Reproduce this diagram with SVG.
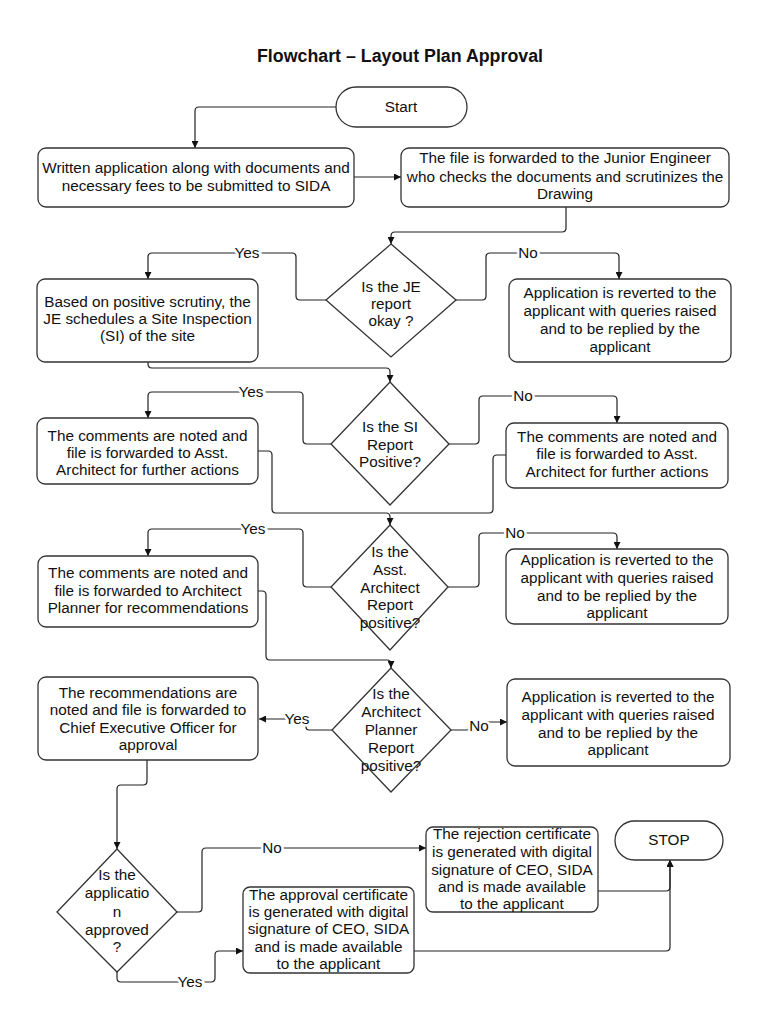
<svg xmlns="http://www.w3.org/2000/svg" width="768" height="1024" viewBox="0 0 768 1024">
<defs>
<marker id="arr" viewBox="0 0 8 8" refX="8" refY="4" markerWidth="7" markerHeight="7" markerUnits="userSpaceOnUse" orient="auto">
<path d="M0,0 L8,4 L0,8 z" fill="#111"/>
</marker>
<style>
.box{fill:#fff;stroke:#333;stroke-width:1.3}
.t{font-family:"Liberation Sans",Arial,Helvetica,sans-serif;font-size:15.3px;fill:#111;text-anchor:middle}
.title{font-family:"Liberation Sans",Arial,Helvetica,sans-serif;font-size:17.5px;font-weight:bold;fill:#111;text-anchor:middle}
.c{fill:none;stroke:#222;stroke-width:1.2}
.lbl{font-family:"Liberation Sans",Arial,Helvetica,sans-serif;font-size:15.3px;fill:#111;text-anchor:middle;stroke:#fff;stroke-width:5;paint-order:stroke}
</style>
</defs>
<rect width="768" height="1024" fill="#fff"/>
<text class="title" x="400" y="62" textLength="286" lengthAdjust="spacingAndGlyphs">Flowchart – Layout Plan Approval</text>

<g id="connectors">
<path class="c" d="M336,107 H199 Q195,107 195,111 V148" marker-end="url(#arr)"/>
<path class="c" d="M354,177 H401" marker-end="url(#arr)"/>
<path class="c" d="M566,207 V228 Q566,232 562,232 H395 Q391,232 391,236 V244" marker-end="url(#arr)"/>
<path class="c" d="M326,300 H300 Q296,300 296,296 V257 Q296,253 292,253 H152 Q148,253 148,257 V279" marker-end="url(#arr)"/>
<path class="c" d="M456,300 H482 Q486,300 486,296 V257 Q486,253 490,253 H615 Q619,253 619,257 V279" marker-end="url(#arr)"/>
<path class="c" d="M148,362 V364 Q148,368 152,368 H386 Q390,368 390,372 V382" marker-end="url(#arr)"/>
<path class="c" d="M331,444 H307 Q303,444 303,440 V396 Q303,392 299,392 H152 Q148,392 148,396 V418" marker-end="url(#arr)"/>
<path class="c" d="M449,444 H475 Q479,444 479,440 V400 Q479,396 483,396 H613 Q617,396 617,400 V423" marker-end="url(#arr)"/>
<path class="c" d="M258,451 H268 Q272,451 272,455 V509 Q272,513 276,513 H386 Q390,513 390,517 V525" marker-end="url(#arr)"/>
<path class="c" d="M506,455 H497 Q493,455 493,459 V509 Q493,513 489,513 H390"/>
<path class="c" d="M331,587 H307 Q303,587 303,583 V533 Q303,529 299,529 H152 Q148,529 148,533 V556" marker-end="url(#arr)"/>
<path class="c" d="M448,587 H475 Q479,587 479,583 V537 Q479,533 483,533 H613 Q617,533 617,537 V549" marker-end="url(#arr)"/>
<path class="c" d="M258,591 H262 Q266,591 266,595 V656 Q266,660 270,660 H387 Q391,660 391,664 V668" marker-end="url(#arr)"/>
<path class="c" d="M332,730 H309 Q306,730 306,727 V719 H259" marker-end="url(#arr)"/>
<path class="c" d="M451,730 H467 Q470,730 470,727 V722 H507" marker-end="url(#arr)"/>
<path class="c" d="M147,760 V781 Q147,785 143,785 H121 Q117,785 117,789 V849" marker-end="url(#arr)"/>
<path class="c" d="M177,912 H198 Q202,912 202,908 V852 Q202,848 206,848 H426" marker-end="url(#arr)"/>
<path class="c" d="M117,972 V978 Q117,982 121,982 H211 Q215,982 215,978 V955 Q215,951 219,951 H243" marker-end="url(#arr)"/>
<path class="c" d="M598,891 H666 Q670,891 670,887 V860" marker-end="url(#arr)"/>
<path class="c" d="M414,951 H666 Q670,951 670,947 V860" marker-end="url(#arr)"/>
<text class="lbl" x="247" y="258">Yes</text>
<text class="lbl" x="528" y="258">No</text>
<text class="lbl" x="251" y="397">Yes</text>
<text class="lbl" x="523" y="401">No</text>
<text class="lbl" x="253" y="534">Yes</text>
<text class="lbl" x="515" y="538">No</text>
<text class="lbl" x="297" y="724">Yes</text>
<text class="lbl" x="479" y="731">No</text>
<text class="lbl" x="272" y="853">No</text>
<text class="lbl" x="190" y="987">Yes</text>
</g>

<g id="start">
<rect class="box" x="336" y="87" width="131" height="40" rx="20"/>
<text class="t" x="401" y="112">Start</text>
</g>
<g id="submit">
<rect class="box" x="38" y="148" width="316" height="59" rx="8"/>
<text class="t" x="196" y="173">Written application along with documents and</text>
<text class="t" x="196" y="191">necessary fees to be submitted to SIDA</text>
</g>
<g id="je">
<rect class="box" x="401" y="148" width="328" height="59" rx="8"/>
<text class="t" x="565" y="163">The file is forwarded to the Junior Engineer</text>
<text class="t" x="565" y="182">who checks the documents and scrutinizes the</text>
<text class="t" x="565" y="199">Drawing</text>
</g>
<g id="d-je">
<polygon class="box" points="391,244 456,300 391,357 326,300"/>
<text class="t" x="391" y="292">Is the JE</text>
<text class="t" x="391" y="309">report</text>
<text class="t" x="391" y="326">okay ?</text>
</g>
<g id="si">
<rect class="box" x="37" y="279" width="221" height="83" rx="8"/>
<text class="t" x="147.5" y="307">Based on positive scrutiny, the</text>
<text class="t" x="147.5" y="324">JE schedules a Site Inspection</text>
<text class="t" x="147.5" y="341">(SI) of the site</text>
</g>
<g id="revert1">
<rect class="box" x="509" y="279" width="222" height="83" rx="8"/>
<text class="t" x="620" y="298">Application is reverted to the</text>
<text class="t" x="620" y="316">applicant with queries raised</text>
<text class="t" x="620" y="334">and to be replied by the</text>
<text class="t" x="620" y="352">applicant</text>
</g>
<g id="d-si">
<polygon class="box" points="390,382 449,444 390,505 331,444"/>
<text class="t" x="390" y="432">Is the SI</text>
<text class="t" x="390" y="450">Report</text>
<text class="t" x="390" y="467">Positive?</text>
</g>
<g id="aa-yes">
<rect class="box" x="37" y="418" width="221" height="66" rx="8"/>
<text class="t" x="147.5" y="441">The comments are noted and</text>
<text class="t" x="147.5" y="458">file is forwarded to Asst.</text>
<text class="t" x="147.5" y="475">Architect for further actions</text>
</g>
<g id="aa-no">
<rect class="box" x="506" y="423" width="222" height="65" rx="8"/>
<text class="t" x="617" y="442">The comments are noted and</text>
<text class="t" x="617" y="459">file is forwarded to Asst.</text>
<text class="t" x="617" y="477">Architect for further actions</text>
</g>
<g id="d-aa">
<polygon class="box" points="390,525 448,587 390,650 331,587"/>
<text class="t" x="390" y="557">Is the</text>
<text class="t" x="390" y="575">Asst.</text>
<text class="t" x="390" y="593">Architect</text>
<text class="t" x="390" y="610">Report</text>
<text class="t" x="390" y="628">positive?</text>
</g>
<g id="ap">
<rect class="box" x="38" y="556" width="220" height="71" rx="8"/>
<text class="t" x="148" y="578">The comments are noted and</text>
<text class="t" x="148" y="596">file is forwarded to Architect</text>
<text class="t" x="148" y="613">Planner for recommendations</text>
</g>
<g id="revert2">
<rect class="box" x="506" y="549" width="222" height="75" rx="8"/>
<text class="t" x="617" y="565">Application is reverted to the</text>
<text class="t" x="617" y="583">applicant with queries raised</text>
<text class="t" x="617" y="601">and to be replied by the</text>
<text class="t" x="617" y="618">applicant</text>
</g>
<g id="d-ap">
<polygon class="box" points="391,668 451,730 391,792 332,730"/>
<text class="t" x="391" y="699">Is the</text>
<text class="t" x="391" y="717">Architect</text>
<text class="t" x="391" y="735">Planner</text>
<text class="t" x="391" y="753">Report</text>
<text class="t" x="391" y="771">positive?</text>
</g>
<g id="ceo">
<rect class="box" x="38" y="677" width="220" height="83" rx="8"/>
<text class="t" x="148" y="698">The recommendations are</text>
<text class="t" x="148" y="715">noted and file is forwarded to</text>
<text class="t" x="148" y="733">Chief Executive Officer for</text>
<text class="t" x="148" y="750">approval</text>
</g>
<g id="revert3">
<rect class="box" x="507" y="679" width="223" height="87" rx="8"/>
<text class="t" x="618" y="702">Application is reverted to the</text>
<text class="t" x="618" y="720">applicant with queries raised</text>
<text class="t" x="618" y="738">and to be replied by the</text>
<text class="t" x="618" y="755">applicant</text>
</g>
<g id="d-app">
<polygon class="box" points="117,849 177,912 117,972 57,912"/>
<text class="t" x="117" y="880">Is the</text>
<text class="t" x="117" y="898">applicatio</text>
<text class="t" x="117" y="917">n</text>
<text class="t" x="117" y="935">approved</text>
<text class="t" x="117" y="952">?</text>
</g>
<g id="approval">
<rect class="box" x="243" y="887" width="171" height="86" rx="7"/>
<text class="t" x="328.5" y="900">The approval certificate</text>
<text class="t" x="328.5" y="917">is generated with digital</text>
<text class="t" x="328.5" y="934">signature of CEO, SIDA</text>
<text class="t" x="328.5" y="952">and is made available</text>
<text class="t" x="328.5" y="969">to the applicant</text>
</g>
<g id="rejection">
<rect class="box" x="426" y="827" width="172" height="85" rx="7"/>
<text class="t" x="512" y="839">The rejection certificate</text>
<text class="t" x="512" y="857">is generated with digital</text>
<text class="t" x="512" y="875">signature of CEO, SIDA</text>
<text class="t" x="512" y="892">and is made available</text>
<text class="t" x="512" y="909">to the applicant</text>
</g>
<g id="stop">
<rect class="box" x="615" y="821" width="108" height="39" rx="19.5"/>
<text class="t" x="669" y="845">STOP</text>
</g>
</svg>
